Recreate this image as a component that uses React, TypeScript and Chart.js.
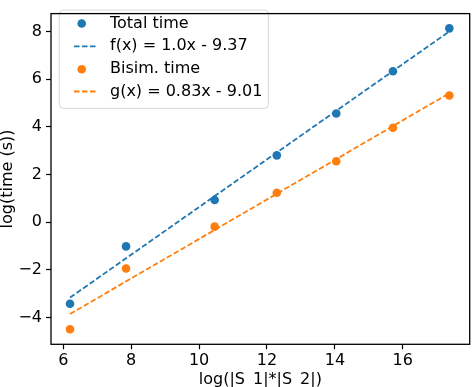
import React, { useEffect, useRef } from "react";
import { Chart, registerables } from "chart.js";

Chart.register(...registerables);

const xValues = [6.2, 7.85, 10.46, 12.29, 14.04, 15.71, 17.37];
const totalTime = [-3.43, -1.02, 0.93, 2.8, 4.56, 6.33, 8.13];
const bisimTime = [-4.5, -1.95, -0.19, 1.23, 2.55, 3.96, 5.31];
const fitTotal = [-3.17, -1.52, 1.09, 2.92, 4.67, 6.34, 8.0];
const fitBisim = [-3.86, -2.49, -0.33, 1.19, 2.64, 4.03, 5.41];
const xTicks = [6, 8, 10, 12, 14, 16];
const yTicks = [-4, -2, 0, 2, 4, 6, 8];
const labels = ["Total time", "f(x) = 1.0x - 9.37", "Bisim. time", "g(x) = 0.83x - 9.01"];
const xTitle = "log(|S_1|*|S_2|)";
const yTitle = "log(time (s))";

const BLUE = "#1f77b4";
const ORANGE = "#ff7f0e";
const FONT = "'DejaVu Sans', sans-serif";

const framePlugin = {
  id: "frame",
  afterDatasetsDraw(chart: any) {
    const ctx = chart.ctx;
    ctx.save();
    // legend
    const lx = 59.3, ly = 10, lw = 209, lh = 98.3, r = 4;
    ctx.beginPath();
    ctx.moveTo(lx + r, ly);
    ctx.lineTo(lx + lw - r, ly);
    ctx.quadraticCurveTo(lx + lw, ly, lx + lw, ly + r);
    ctx.lineTo(lx + lw, ly + lh - r);
    ctx.quadraticCurveTo(lx + lw, ly + lh, lx + lw - r, ly + lh);
    ctx.lineTo(lx + r, ly + lh);
    ctx.quadraticCurveTo(lx, ly + lh, lx, ly + lh - r);
    ctx.lineTo(lx, ly + r);
    ctx.quadraticCurveTo(lx, ly, lx + r, ly);
    ctx.closePath();
    ctx.fillStyle = "rgba(255,255,255,0.8)";
    ctx.fill();
    ctx.strokeStyle = "rgba(204,204,204,0.8)";
    ctx.lineWidth = 1;
    ctx.stroke();
    const ds = chart.data.datasets;
    const rows = [23.5, 46.3, 69.3, 91.5];
    ds.forEach((d: any, i: number) => {
      const y = rows[i];
      if (d.showLine) {
        ctx.beginPath();
        ctx.setLineDash(d.borderDash);
        ctx.strokeStyle = d.borderColor;
        ctx.lineWidth = d.borderWidth;
        ctx.moveTo(74, y);
        ctx.lineTo(97, y);
        ctx.stroke();
        ctx.setLineDash([]);
      } else {
        ctx.beginPath();
        ctx.fillStyle = d.backgroundColor;
        ctx.arc(81.7, y, d.pointRadius, 0, Math.PI * 2);
        ctx.fill();
      }
      ctx.fillStyle = "#000";
      ctx.font = `16px ${FONT}`;
      ctx.textBaseline = "middle";
      ctx.textAlign = "left";
      ctx.fillText(d.label, 110, y);
    });
    ctx.restore();
  },
  afterDraw(chart: any) {
    const ctx = chart.ctx;
    const a = chart.chartArea;
    ctx.save();
    ctx.strokeStyle = "#000";
    ctx.lineWidth = 1.3;
    ctx.strokeRect(a.left, a.top, a.right - a.left, a.bottom - a.top);
    ctx.fillStyle = "#000";
    ctx.font = `16px ${FONT}`;
    ctx.textAlign = "center";
    ctx.textBaseline = "alphabetic";
    ctx.fillText(xTitle, (a.left + a.right) / 2, 384);
    ctx.translate(8, (a.top + a.bottom) / 2);
    ctx.rotate(-Math.PI / 2);
    ctx.textBaseline = "middle";
    ctx.fillText(yTitle, 0, 0);
    ctx.restore();
  },
};

export default function App() {
  const ref = useRef<HTMLCanvasElement>(null);
  useEffect(() => {
    document.body.style.margin = "0";
    const pts = (ys: number[]) => xValues.map((x, i) => ({ x, y: ys[i] }));
    const chart = new Chart(ref.current!, {
      type: "scatter",
      data: {
        datasets: [
          { label: labels[0], data: pts(totalTime), backgroundColor: BLUE, borderColor: BLUE, pointRadius: 4.3, pointBorderWidth: 0, showLine: false },
          { label: labels[1], data: pts(fitTotal), borderColor: BLUE, backgroundColor: BLUE, borderWidth: 1.8, borderDash: [5.5, 2.5], pointRadius: 0, showLine: true },
          { label: labels[2], data: pts(bisimTime), backgroundColor: ORANGE, borderColor: ORANGE, pointRadius: 4.3, pointBorderWidth: 0, showLine: false },
          { label: labels[3], data: pts(fitBisim), borderColor: ORANGE, backgroundColor: ORANGE, borderWidth: 1.8, borderDash: [5.5, 2.5], pointRadius: 0, showLine: true },
        ] as any,
      },
      options: {
        animation: false,
        responsive: false,
        devicePixelRatio: 1,
        layout: { padding: { top: 3.5, right: 1.3, left: 0, bottom: 0 } },
        plugins: { legend: { display: false }, tooltip: { enabled: false } },
        scales: {
          x: {
            type: "linear",
            min: 5.64,
            max: 17.97,
            border: { display: false },
            grid: { drawOnChartArea: false, drawTicks: true, tickLength: 5, color: "#000", tickWidth: 1.2 },
            ticks: { color: "#000", font: { family: FONT, size: 16 }, padding: 2, maxRotation: 0, callback: (v: any) => String(v).replace("-", "\u2212") },
            afterBuildTicks: (s: any) => { s.ticks = xTicks.map((v) => ({ value: v })); },
            afterFit: (s: any) => { s.height = 42.7; },
          },
          y: {
            type: "linear",
            min: -5.13,
            max: 8.75,
            border: { display: false },
            grid: { drawOnChartArea: false, drawTicks: true, tickLength: 5, color: "#000", tickWidth: 1.2 },
            ticks: { color: "#000", font: { family: FONT, size: 16 }, padding: 4, callback: (v: any) => String(v).replace("-", "\u2212") },
            afterBuildTicks: (s: any) => { s.ticks = yTicks.map((v) => ({ value: v })); },
            afterFit: (s: any) => { s.width = 51; },
          },
        },
      },
      plugins: [framePlugin],
    });
    return () => chart.destroy();
  }, []);
  return (
    <div style={{ position: "absolute", left: 0, top: 0, width: 474, height: 387 }}>
      <canvas ref={ref} width={474} height={387} />
    </div>
  );
}
